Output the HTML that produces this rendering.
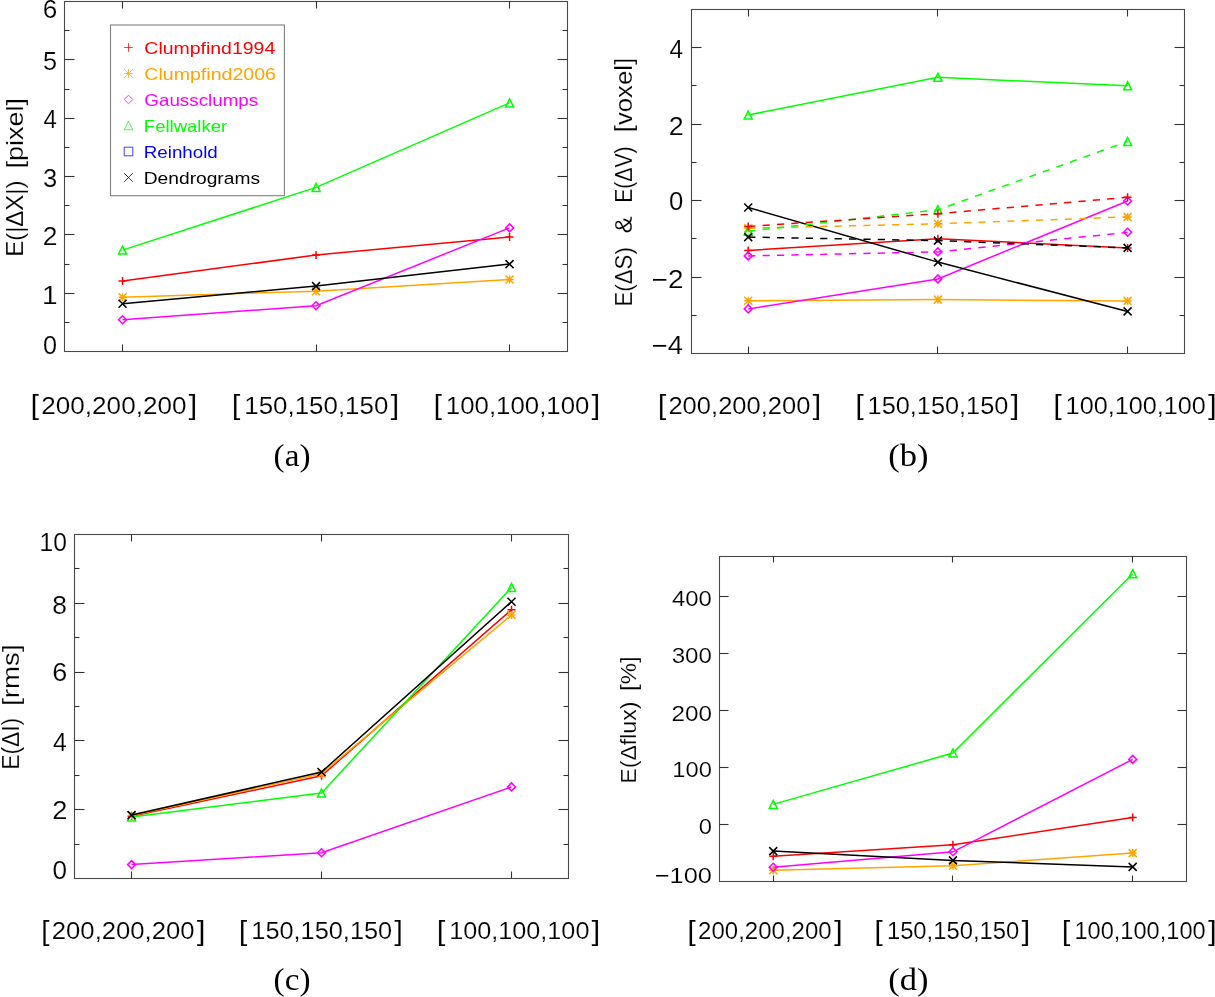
<!DOCTYPE html>
<html><head><meta charset="utf-8"><style>
html,body{margin:0;padding:0;background:#fff;width:1215px;height:997px;overflow:hidden}
svg{display:block;will-change:transform}
</style></head><body>
<svg width="1215" height="997" viewBox="0 0 1215 997">
<rect width="1215" height="997" fill="#fff"/>
<rect x="64.50" y="1.50" width="503.00" height="350.00" fill="none" stroke="#484848" stroke-width="1.1"/>
<line x1="122.50" y1="1.50" x2="122.50" y2="8.50" stroke="#333333" stroke-width="1.1"/>
<line x1="122.50" y1="351.50" x2="122.50" y2="344.50" stroke="#333333" stroke-width="1.1"/>
<line x1="316.50" y1="1.50" x2="316.50" y2="8.50" stroke="#333333" stroke-width="1.1"/>
<line x1="316.50" y1="351.50" x2="316.50" y2="344.50" stroke="#333333" stroke-width="1.1"/>
<line x1="509.50" y1="1.50" x2="509.50" y2="8.50" stroke="#333333" stroke-width="1.1"/>
<line x1="509.50" y1="351.50" x2="509.50" y2="344.50" stroke="#333333" stroke-width="1.1"/>
<line x1="64.50" y1="293.50" x2="74.50" y2="293.50" stroke="#333333" stroke-width="1.1"/>
<line x1="567.50" y1="293.50" x2="557.50" y2="293.50" stroke="#333333" stroke-width="1.1"/>
<line x1="64.50" y1="234.50" x2="74.50" y2="234.50" stroke="#333333" stroke-width="1.1"/>
<line x1="567.50" y1="234.50" x2="557.50" y2="234.50" stroke="#333333" stroke-width="1.1"/>
<line x1="64.50" y1="176.50" x2="74.50" y2="176.50" stroke="#333333" stroke-width="1.1"/>
<line x1="567.50" y1="176.50" x2="557.50" y2="176.50" stroke="#333333" stroke-width="1.1"/>
<line x1="64.50" y1="118.50" x2="74.50" y2="118.50" stroke="#333333" stroke-width="1.1"/>
<line x1="567.50" y1="118.50" x2="557.50" y2="118.50" stroke="#333333" stroke-width="1.1"/>
<line x1="64.50" y1="59.50" x2="74.50" y2="59.50" stroke="#333333" stroke-width="1.1"/>
<line x1="567.50" y1="59.50" x2="557.50" y2="59.50" stroke="#333333" stroke-width="1.1"/>
<line x1="64.50" y1="322.50" x2="69.50" y2="322.50" stroke="#333333" stroke-width="1.1"/>
<line x1="567.50" y1="322.50" x2="562.50" y2="322.50" stroke="#333333" stroke-width="1.1"/>
<line x1="64.50" y1="264.50" x2="69.50" y2="264.50" stroke="#333333" stroke-width="1.1"/>
<line x1="567.50" y1="264.50" x2="562.50" y2="264.50" stroke="#333333" stroke-width="1.1"/>
<line x1="64.50" y1="205.50" x2="69.50" y2="205.50" stroke="#333333" stroke-width="1.1"/>
<line x1="567.50" y1="205.50" x2="562.50" y2="205.50" stroke="#333333" stroke-width="1.1"/>
<line x1="64.50" y1="147.50" x2="69.50" y2="147.50" stroke="#333333" stroke-width="1.1"/>
<line x1="567.50" y1="147.50" x2="562.50" y2="147.50" stroke="#333333" stroke-width="1.1"/>
<line x1="64.50" y1="89.50" x2="69.50" y2="89.50" stroke="#333333" stroke-width="1.1"/>
<line x1="567.50" y1="89.50" x2="562.50" y2="89.50" stroke="#333333" stroke-width="1.1"/>
<line x1="64.50" y1="30.50" x2="69.50" y2="30.50" stroke="#333333" stroke-width="1.1"/>
<line x1="567.50" y1="30.50" x2="562.50" y2="30.50" stroke="#333333" stroke-width="1.1"/>
<text transform="translate(42.99 353.65) scale(1.0105 1)" font-size="25.00" font-family="Liberation Sans" fill="#000" stroke="#fff" stroke-width="0.15" style="white-space:pre">0</text>
<text transform="translate(41.91 303.72) scale(1.1163 1)" font-size="25.00" font-family="Liberation Sans" fill="#000" stroke="#fff" stroke-width="0.15" style="white-space:pre">1</text>
<text transform="translate(42.68 245.38) scale(1.0549 1)" font-size="25.00" font-family="Liberation Sans" fill="#000" stroke="#fff" stroke-width="0.15" style="white-space:pre">2</text>
<text transform="translate(42.98 187.05) scale(1.0213 1)" font-size="25.00" font-family="Liberation Sans" fill="#000" stroke="#fff" stroke-width="0.15" style="white-space:pre">3</text>
<text transform="translate(43.40 128.00) scale(0.9600 1)" font-size="25.00" font-family="Liberation Sans" fill="#000" stroke="#fff" stroke-width="0.15" style="white-space:pre">4</text>
<text transform="translate(42.99 69.50) scale(1.0105 1)" font-size="25.00" font-family="Liberation Sans" fill="#000" stroke="#fff" stroke-width="0.15" style="white-space:pre">5</text>
<text transform="translate(42.70 18.15) scale(1.0435 1)" font-size="25.00" font-family="Liberation Sans" fill="#000" stroke="#fff" stroke-width="0.15" style="white-space:pre">6</text>
<text transform="translate(22.60 256.82) rotate(-90) scale(1.0148 1)" font-size="23.62" font-family="Liberation Sans" fill="#000" stroke="#fff" stroke-width="0.15" style="white-space:pre">E(|ΔX|)</text>
<text transform="translate(22.60 168.49) rotate(-90) scale(1.1431 1)" font-size="23.62" font-family="Liberation Sans" fill="#000" stroke="#fff" stroke-width="0.15" style="white-space:pre">[pixel]</text>
<rect x="110.5" y="25" width="173.90" height="170.70" fill="#fff" stroke="#808080" stroke-width="1.1"/>
<text transform="translate(144.33 53.80) scale(1.1957 1)" font-size="16.29" font-family="Liberation Sans" fill="#ff0000" style="white-space:pre">Clumpfind1994</text>
<path d="M124.20 47.50H132.80M128.50 43.20V51.80" fill="none" stroke="#ff0000" stroke-width="0.75" stroke-linejoin="miter"/>
<text transform="translate(144.32 79.80) scale(1.2012 1)" font-size="16.29" font-family="Liberation Sans" fill="#ffa500" style="white-space:pre">Clumpfind2006</text>
<path d="M124.20 73.50H132.80M128.50 69.20V77.80M124.20 69.20L132.80 77.80M132.80 69.20L124.20 77.80" fill="none" stroke="#ffa500" stroke-width="0.75" stroke-linejoin="miter"/>
<text transform="translate(144.36 105.80) scale(1.1540 1)" font-size="16.29" font-family="Liberation Sans" fill="#ff00ff" style="white-space:pre">Gaussclumps</text>
<path d="M128.50 95.20L132.80 99.50L128.50 103.80L124.20 99.50Z" fill="none" stroke="#ff00ff" stroke-width="0.75" stroke-linejoin="miter"/>
<text transform="translate(143.82 131.80) scale(1.1389 1)" font-size="16.29" font-family="Liberation Sans" fill="#00ff00" style="white-space:pre">Fellwalker</text>
<path d="M128.50 121.20L132.80 129.80L124.20 129.80Z" fill="none" stroke="#00ff00" stroke-width="0.75" stroke-linejoin="miter"/>
<text transform="translate(143.80 157.80) scale(1.1505 1)" font-size="16.29" font-family="Liberation Sans" fill="#0000ff" style="white-space:pre">Reinhold</text>
<path d="M124.20 147.20H132.80V155.80H124.20Z" fill="none" stroke="#0000ff" stroke-width="0.75" stroke-linejoin="miter"/>
<text transform="translate(143.76 183.80) scale(1.1785 1)" font-size="16.29" font-family="Liberation Sans" fill="#000000" style="white-space:pre">Dendrograms</text>
<path d="M124.20 173.20L132.80 181.80M132.80 173.20L124.20 181.80" fill="none" stroke="#000000" stroke-width="0.75" stroke-linejoin="miter"/>
<polyline points="122.55,280.90 316.05,255.10 509.55,237.10" fill="none" stroke="#ff0000" stroke-width="1.5"/>
<path d="M118.55 280.90H126.55M122.55 276.90V284.90" fill="none" stroke="#ff0000" stroke-width="1.5" stroke-linejoin="miter"/>
<path d="M312.05 255.10H320.05M316.05 251.10V259.10" fill="none" stroke="#ff0000" stroke-width="1.5" stroke-linejoin="miter"/>
<path d="M505.55 237.10H513.55M509.55 233.10V241.10" fill="none" stroke="#ff0000" stroke-width="1.5" stroke-linejoin="miter"/>
<polyline points="122.55,297.20 316.05,291.20 509.55,279.50" fill="none" stroke="#ffa500" stroke-width="1.5"/>
<path d="M118.55 297.20H126.55M122.55 293.20V301.20M118.55 293.20L126.55 301.20M126.55 293.20L118.55 301.20" fill="none" stroke="#ffa500" stroke-width="1.5" stroke-linejoin="miter"/>
<path d="M312.05 291.20H320.05M316.05 287.20V295.20M312.05 287.20L320.05 295.20M320.05 287.20L312.05 295.20" fill="none" stroke="#ffa500" stroke-width="1.5" stroke-linejoin="miter"/>
<path d="M505.55 279.50H513.55M509.55 275.50V283.50M505.55 275.50L513.55 283.50M513.55 275.50L505.55 283.50" fill="none" stroke="#ffa500" stroke-width="1.5" stroke-linejoin="miter"/>
<polyline points="122.55,319.80 316.05,305.70 509.55,227.90" fill="none" stroke="#ff00ff" stroke-width="1.5"/>
<path d="M122.55 315.80L126.55 319.80L122.55 323.80L118.55 319.80Z" fill="none" stroke="#ff00ff" stroke-width="1.5" stroke-linejoin="miter"/>
<path d="M316.05 301.70L320.05 305.70L316.05 309.70L312.05 305.70Z" fill="none" stroke="#ff00ff" stroke-width="1.5" stroke-linejoin="miter"/>
<path d="M509.55 223.90L513.55 227.90L509.55 231.90L505.55 227.90Z" fill="none" stroke="#ff00ff" stroke-width="1.5" stroke-linejoin="miter"/>
<polyline points="122.55,250.10 316.05,187.40 509.55,102.90" fill="none" stroke="#00ff00" stroke-width="1.5"/>
<path d="M122.55 246.10L126.55 254.10L118.55 254.10Z" fill="none" stroke="#00ff00" stroke-width="1.5" stroke-linejoin="miter"/>
<path d="M316.05 183.40L320.05 191.40L312.05 191.40Z" fill="none" stroke="#00ff00" stroke-width="1.5" stroke-linejoin="miter"/>
<path d="M509.55 98.90L513.55 106.90L505.55 106.90Z" fill="none" stroke="#00ff00" stroke-width="1.5" stroke-linejoin="miter"/>
<polyline points="122.55,303.80 316.05,286.10 509.55,264.10" fill="none" stroke="#000000" stroke-width="1.5"/>
<path d="M118.55 299.80L126.55 307.80M126.55 299.80L118.55 307.80" fill="none" stroke="#000000" stroke-width="1.5" stroke-linejoin="miter"/>
<path d="M312.05 282.10L320.05 290.10M320.05 282.10L312.05 290.10" fill="none" stroke="#000000" stroke-width="1.5" stroke-linejoin="miter"/>
<path d="M505.55 260.10L513.55 268.10M513.55 260.10L505.55 268.10" fill="none" stroke="#000000" stroke-width="1.5" stroke-linejoin="miter"/>
<text transform="translate(30.53 413.87) scale(1.3313 1.1712)" font-size="23.29" font-family="Liberation Sans" fill="#000" stroke="#fff" stroke-width="0.15" style="white-space:pre">[</text>
<text transform="translate(41.29 413.60) scale(1.1211 1.0000)" font-size="23.29" font-family="Liberation Sans" fill="#000" stroke="#fff" stroke-width="0.15" style="white-space:pre">200,200,200</text>
<text transform="translate(188.58 413.87) scale(1.3654 1.1712)" font-size="23.29" font-family="Liberation Sans" fill="#000" stroke="#fff" stroke-width="0.15" style="white-space:pre">]</text>
<text transform="translate(231.83 413.87) scale(1.3313 1.1712)" font-size="23.29" font-family="Liberation Sans" fill="#000" stroke="#fff" stroke-width="0.15" style="white-space:pre">[</text>
<text transform="translate(244.26 413.60) scale(1.1129 1.0000)" font-size="23.29" font-family="Liberation Sans" fill="#000" stroke="#fff" stroke-width="0.15" style="white-space:pre">150,150,150</text>
<text transform="translate(390.48 413.87) scale(1.3654 1.1712)" font-size="23.29" font-family="Liberation Sans" fill="#000" stroke="#fff" stroke-width="0.15" style="white-space:pre">]</text>
<text transform="translate(433.43 413.87) scale(1.3313 1.1712)" font-size="23.29" font-family="Liberation Sans" fill="#000" stroke="#fff" stroke-width="0.15" style="white-space:pre">[</text>
<text transform="translate(445.86 413.60) scale(1.1089 1.0000)" font-size="23.29" font-family="Liberation Sans" fill="#000" stroke="#fff" stroke-width="0.15" style="white-space:pre">100,100,100</text>
<text transform="translate(591.58 413.87) scale(1.3654 1.1712)" font-size="23.29" font-family="Liberation Sans" fill="#000" stroke="#fff" stroke-width="0.15" style="white-space:pre">]</text>
<text transform="translate(273.60 466.00) scale(1.0290 1)" font-size="32.30" font-family="Liberation Serif" fill="#000" style="white-space:pre">(a)</text>
<rect x="691.50" y="9.50" width="493.00" height="344.00" fill="none" stroke="#484848" stroke-width="1.1"/>
<line x1="748.50" y1="9.50" x2="748.50" y2="16.50" stroke="#333333" stroke-width="1.1"/>
<line x1="748.50" y1="353.50" x2="748.50" y2="346.50" stroke="#333333" stroke-width="1.1"/>
<line x1="937.50" y1="9.50" x2="937.50" y2="16.50" stroke="#333333" stroke-width="1.1"/>
<line x1="937.50" y1="353.50" x2="937.50" y2="346.50" stroke="#333333" stroke-width="1.1"/>
<line x1="1127.50" y1="9.50" x2="1127.50" y2="16.50" stroke="#333333" stroke-width="1.1"/>
<line x1="1127.50" y1="353.50" x2="1127.50" y2="346.50" stroke="#333333" stroke-width="1.1"/>
<line x1="691.50" y1="277.50" x2="701.50" y2="277.50" stroke="#333333" stroke-width="1.1"/>
<line x1="1184.50" y1="277.50" x2="1174.50" y2="277.50" stroke="#333333" stroke-width="1.1"/>
<line x1="691.50" y1="200.50" x2="701.50" y2="200.50" stroke="#333333" stroke-width="1.1"/>
<line x1="1184.50" y1="200.50" x2="1174.50" y2="200.50" stroke="#333333" stroke-width="1.1"/>
<line x1="691.50" y1="124.50" x2="701.50" y2="124.50" stroke="#333333" stroke-width="1.1"/>
<line x1="1184.50" y1="124.50" x2="1174.50" y2="124.50" stroke="#333333" stroke-width="1.1"/>
<line x1="691.50" y1="47.50" x2="701.50" y2="47.50" stroke="#333333" stroke-width="1.1"/>
<line x1="1184.50" y1="47.50" x2="1174.50" y2="47.50" stroke="#333333" stroke-width="1.1"/>
<line x1="691.50" y1="315.50" x2="696.50" y2="315.50" stroke="#333333" stroke-width="1.1"/>
<line x1="1184.50" y1="315.50" x2="1179.50" y2="315.50" stroke="#333333" stroke-width="1.1"/>
<line x1="691.50" y1="238.50" x2="696.50" y2="238.50" stroke="#333333" stroke-width="1.1"/>
<line x1="1184.50" y1="238.50" x2="1179.50" y2="238.50" stroke="#333333" stroke-width="1.1"/>
<line x1="691.50" y1="162.50" x2="696.50" y2="162.50" stroke="#333333" stroke-width="1.1"/>
<line x1="1184.50" y1="162.50" x2="1179.50" y2="162.50" stroke="#333333" stroke-width="1.1"/>
<line x1="691.50" y1="85.50" x2="696.50" y2="85.50" stroke="#333333" stroke-width="1.1"/>
<line x1="1184.50" y1="85.50" x2="1179.50" y2="85.50" stroke="#333333" stroke-width="1.1"/>
<text transform="translate(651.73 354.10) scale(1.0981 1)" font-size="25.00" font-family="Liberation Sans" fill="#000" stroke="#fff" stroke-width="0.15" style="white-space:pre">−4</text>
<text transform="translate(651.81 287.55) scale(1.1154 1)" font-size="25.00" font-family="Liberation Sans" fill="#000" stroke="#fff" stroke-width="0.15" style="white-space:pre">−2</text>
<text transform="translate(668.97 210.05) scale(1.0274 1)" font-size="25.00" font-family="Liberation Sans" fill="#000" stroke="#fff" stroke-width="0.15" style="white-space:pre">0</text>
<text transform="translate(668.66 134.95) scale(1.0725 1)" font-size="25.00" font-family="Liberation Sans" fill="#000" stroke="#fff" stroke-width="0.15" style="white-space:pre">2</text>
<text transform="translate(669.39 57.75) scale(0.9760 1)" font-size="25.00" font-family="Liberation Sans" fill="#000" stroke="#fff" stroke-width="0.15" style="white-space:pre">4</text>
<text transform="translate(631.80 306.48) rotate(-90) scale(0.9308 1)" font-size="23.91" font-family="Liberation Sans" fill="#000" stroke="#fff" stroke-width="0.15" style="white-space:pre">E(ΔS)</text>
<text transform="translate(631.80 233.60) rotate(-90) scale(1.0744 1)" font-size="23.91" font-family="Liberation Sans" fill="#000" stroke="#fff" stroke-width="0.15" style="white-space:pre">&amp;</text>
<text transform="translate(631.80 202.79) rotate(-90) scale(0.8844 1)" font-size="23.91" font-family="Liberation Sans" fill="#000" stroke="#fff" stroke-width="0.15" style="white-space:pre">E(ΔV)</text>
<text transform="translate(631.80 132.20) rotate(-90) scale(1.0766 1)" font-size="23.91" font-family="Liberation Sans" fill="#000" stroke="#fff" stroke-width="0.15" style="white-space:pre">[voxel]</text>
<polyline points="748.21,250.40 937.90,238.70 1127.59,247.90" fill="none" stroke="#ff0000" stroke-width="1.5"/>
<path d="M744.21 250.40H752.21M748.21 246.40V254.40" fill="none" stroke="#ff0000" stroke-width="1.5" stroke-linejoin="miter"/>
<path d="M933.90 238.70H941.90M937.90 234.70V242.70" fill="none" stroke="#ff0000" stroke-width="1.5" stroke-linejoin="miter"/>
<path d="M1123.59 247.90H1131.59M1127.59 243.90V251.90" fill="none" stroke="#ff0000" stroke-width="1.5" stroke-linejoin="miter"/>
<polyline points="748.21,300.80 937.90,299.60 1127.59,300.90" fill="none" stroke="#ffa500" stroke-width="1.5"/>
<path d="M744.21 300.80H752.21M748.21 296.80V304.80M744.21 296.80L752.21 304.80M752.21 296.80L744.21 304.80" fill="none" stroke="#ffa500" stroke-width="1.5" stroke-linejoin="miter"/>
<path d="M933.90 299.60H941.90M937.90 295.60V303.60M933.90 295.60L941.90 303.60M941.90 295.60L933.90 303.60" fill="none" stroke="#ffa500" stroke-width="1.5" stroke-linejoin="miter"/>
<path d="M1123.59 300.90H1131.59M1127.59 296.90V304.90M1123.59 296.90L1131.59 304.90M1131.59 296.90L1123.59 304.90" fill="none" stroke="#ffa500" stroke-width="1.5" stroke-linejoin="miter"/>
<polyline points="748.21,308.90 937.90,278.90 1127.59,201.00" fill="none" stroke="#ff00ff" stroke-width="1.5"/>
<path d="M748.21 304.90L752.21 308.90L748.21 312.90L744.21 308.90Z" fill="none" stroke="#ff00ff" stroke-width="1.5" stroke-linejoin="miter"/>
<path d="M937.90 274.90L941.90 278.90L937.90 282.90L933.90 278.90Z" fill="none" stroke="#ff00ff" stroke-width="1.5" stroke-linejoin="miter"/>
<path d="M1127.59 197.00L1131.59 201.00L1127.59 205.00L1123.59 201.00Z" fill="none" stroke="#ff00ff" stroke-width="1.5" stroke-linejoin="miter"/>
<polyline points="748.21,115.00 937.90,77.30 1127.59,85.80" fill="none" stroke="#00ff00" stroke-width="1.5"/>
<path d="M748.21 111.00L752.21 119.00L744.21 119.00Z" fill="none" stroke="#00ff00" stroke-width="1.5" stroke-linejoin="miter"/>
<path d="M937.90 73.30L941.90 81.30L933.90 81.30Z" fill="none" stroke="#00ff00" stroke-width="1.5" stroke-linejoin="miter"/>
<path d="M1127.59 81.80L1131.59 89.80L1123.59 89.80Z" fill="none" stroke="#00ff00" stroke-width="1.5" stroke-linejoin="miter"/>
<polyline points="748.21,207.50 937.90,262.10 1127.59,311.40" fill="none" stroke="#000000" stroke-width="1.5"/>
<path d="M744.21 203.50L752.21 211.50M752.21 203.50L744.21 211.50" fill="none" stroke="#000000" stroke-width="1.5" stroke-linejoin="miter"/>
<path d="M933.90 258.10L941.90 266.10M941.90 258.10L933.90 266.10" fill="none" stroke="#000000" stroke-width="1.5" stroke-linejoin="miter"/>
<path d="M1123.59 307.40L1131.59 315.40M1131.59 307.40L1123.59 315.40" fill="none" stroke="#000000" stroke-width="1.5" stroke-linejoin="miter"/>
<polyline points="748.21,228.20 937.90,223.80 1127.59,216.90" fill="none" stroke="#ffa500" stroke-width="1.5" stroke-dasharray="7.2 7.2"/>
<path d="M744.21 228.20H752.21M748.21 224.20V232.20M744.21 224.20L752.21 232.20M752.21 224.20L744.21 232.20" fill="none" stroke="#ffa500" stroke-width="1.5" stroke-linejoin="miter"/>
<path d="M933.90 223.80H941.90M937.90 219.80V227.80M933.90 219.80L941.90 227.80M941.90 219.80L933.90 227.80" fill="none" stroke="#ffa500" stroke-width="1.5" stroke-linejoin="miter"/>
<path d="M1123.59 216.90H1131.59M1127.59 212.90V220.90M1123.59 212.90L1131.59 220.90M1131.59 212.90L1123.59 220.90" fill="none" stroke="#ffa500" stroke-width="1.5" stroke-linejoin="miter"/>
<polyline points="748.21,255.90 937.90,251.90 1127.59,232.30" fill="none" stroke="#ff00ff" stroke-width="1.5" stroke-dasharray="7.2 7.2"/>
<path d="M748.21 251.90L752.21 255.90L748.21 259.90L744.21 255.90Z" fill="none" stroke="#ff00ff" stroke-width="1.5" stroke-linejoin="miter"/>
<path d="M937.90 247.90L941.90 251.90L937.90 255.90L933.90 251.90Z" fill="none" stroke="#ff00ff" stroke-width="1.5" stroke-linejoin="miter"/>
<path d="M1127.59 228.30L1131.59 232.30L1127.59 236.30L1123.59 232.30Z" fill="none" stroke="#ff00ff" stroke-width="1.5" stroke-linejoin="miter"/>
<polyline points="748.21,231.20 937.90,209.80 1127.59,141.50" fill="none" stroke="#00ff00" stroke-width="1.5" stroke-dasharray="7.2 7.2"/>
<path d="M748.21 227.20L752.21 235.20L744.21 235.20Z" fill="none" stroke="#00ff00" stroke-width="1.5" stroke-linejoin="miter"/>
<path d="M937.90 205.80L941.90 213.80L933.90 213.80Z" fill="none" stroke="#00ff00" stroke-width="1.5" stroke-linejoin="miter"/>
<path d="M1127.59 137.50L1131.59 145.50L1123.59 145.50Z" fill="none" stroke="#00ff00" stroke-width="1.5" stroke-linejoin="miter"/>
<polyline points="748.21,226.40 937.90,213.70 1127.59,197.30" fill="none" stroke="#ff0000" stroke-width="1.5" stroke-dasharray="7.2 7.2"/>
<path d="M744.21 226.40H752.21M748.21 222.40V230.40" fill="none" stroke="#ff0000" stroke-width="1.5" stroke-linejoin="miter"/>
<path d="M933.90 213.70H941.90M937.90 209.70V217.70" fill="none" stroke="#ff0000" stroke-width="1.5" stroke-linejoin="miter"/>
<path d="M1123.59 197.30H1131.59M1127.59 193.30V201.30" fill="none" stroke="#ff0000" stroke-width="1.5" stroke-linejoin="miter"/>
<polyline points="748.21,237.10 937.90,240.60 1127.59,247.90" fill="none" stroke="#000000" stroke-width="1.5" stroke-dasharray="7.2 7.2"/>
<path d="M744.21 233.10L752.21 241.10M752.21 233.10L744.21 241.10" fill="none" stroke="#000000" stroke-width="1.5" stroke-linejoin="miter"/>
<path d="M933.90 236.60L941.90 244.60M941.90 236.60L933.90 244.60" fill="none" stroke="#000000" stroke-width="1.5" stroke-linejoin="miter"/>
<path d="M1123.59 243.90L1131.59 251.90M1131.59 243.90L1123.59 251.90" fill="none" stroke="#000000" stroke-width="1.5" stroke-linejoin="miter"/>
<text transform="translate(657.63 413.87) scale(1.3313 1.1712)" font-size="23.29" font-family="Liberation Sans" fill="#000" stroke="#fff" stroke-width="0.15" style="white-space:pre">[</text>
<text transform="translate(668.42 413.60) scale(1.0968 1.0000)" font-size="23.29" font-family="Liberation Sans" fill="#000" stroke="#fff" stroke-width="0.15" style="white-space:pre">200,200,200</text>
<text transform="translate(812.58 413.87) scale(1.3654 1.1712)" font-size="23.29" font-family="Liberation Sans" fill="#000" stroke="#fff" stroke-width="0.15" style="white-space:pre">]</text>
<text transform="translate(855.13 413.87) scale(1.3313 1.1712)" font-size="23.29" font-family="Liberation Sans" fill="#000" stroke="#fff" stroke-width="0.15" style="white-space:pre">[</text>
<text transform="translate(867.60 413.60) scale(1.0868 1.0000)" font-size="23.29" font-family="Liberation Sans" fill="#000" stroke="#fff" stroke-width="0.15" style="white-space:pre">150,150,150</text>
<text transform="translate(1010.48 413.87) scale(1.3654 1.1712)" font-size="23.29" font-family="Liberation Sans" fill="#000" stroke="#fff" stroke-width="0.15" style="white-space:pre">]</text>
<text transform="translate(1053.13 413.87) scale(1.3313 1.1712)" font-size="23.29" font-family="Liberation Sans" fill="#000" stroke="#fff" stroke-width="0.15" style="white-space:pre">[</text>
<text transform="translate(1065.61 413.60) scale(1.0829 1.0000)" font-size="23.29" font-family="Liberation Sans" fill="#000" stroke="#fff" stroke-width="0.15" style="white-space:pre">100,100,100</text>
<text transform="translate(1207.98 413.87) scale(1.3654 1.1712)" font-size="23.29" font-family="Liberation Sans" fill="#000" stroke="#fff" stroke-width="0.15" style="white-space:pre">]</text>
<text transform="translate(888.35 466.00) scale(1.0685 1)" font-size="32.30" font-family="Liberation Serif" fill="#000" style="white-space:pre">(b)</text>
<rect x="74.50" y="534.50" width="494.00" height="344.00" fill="none" stroke="#484848" stroke-width="1.1"/>
<line x1="131.50" y1="534.50" x2="131.50" y2="541.50" stroke="#333333" stroke-width="1.1"/>
<line x1="131.50" y1="878.50" x2="131.50" y2="871.50" stroke="#333333" stroke-width="1.1"/>
<line x1="321.50" y1="534.50" x2="321.50" y2="541.50" stroke="#333333" stroke-width="1.1"/>
<line x1="321.50" y1="878.50" x2="321.50" y2="871.50" stroke="#333333" stroke-width="1.1"/>
<line x1="511.50" y1="534.50" x2="511.50" y2="541.50" stroke="#333333" stroke-width="1.1"/>
<line x1="511.50" y1="878.50" x2="511.50" y2="871.50" stroke="#333333" stroke-width="1.1"/>
<line x1="74.50" y1="809.50" x2="84.50" y2="809.50" stroke="#333333" stroke-width="1.1"/>
<line x1="568.50" y1="809.50" x2="558.50" y2="809.50" stroke="#333333" stroke-width="1.1"/>
<line x1="74.50" y1="740.50" x2="84.50" y2="740.50" stroke="#333333" stroke-width="1.1"/>
<line x1="568.50" y1="740.50" x2="558.50" y2="740.50" stroke="#333333" stroke-width="1.1"/>
<line x1="74.50" y1="672.50" x2="84.50" y2="672.50" stroke="#333333" stroke-width="1.1"/>
<line x1="568.50" y1="672.50" x2="558.50" y2="672.50" stroke="#333333" stroke-width="1.1"/>
<line x1="74.50" y1="603.50" x2="84.50" y2="603.50" stroke="#333333" stroke-width="1.1"/>
<line x1="568.50" y1="603.50" x2="558.50" y2="603.50" stroke="#333333" stroke-width="1.1"/>
<line x1="74.50" y1="844.50" x2="79.50" y2="844.50" stroke="#333333" stroke-width="1.1"/>
<line x1="568.50" y1="844.50" x2="563.50" y2="844.50" stroke="#333333" stroke-width="1.1"/>
<line x1="74.50" y1="775.50" x2="79.50" y2="775.50" stroke="#333333" stroke-width="1.1"/>
<line x1="568.50" y1="775.50" x2="563.50" y2="775.50" stroke="#333333" stroke-width="1.1"/>
<line x1="74.50" y1="706.50" x2="79.50" y2="706.50" stroke="#333333" stroke-width="1.1"/>
<line x1="568.50" y1="706.50" x2="563.50" y2="706.50" stroke="#333333" stroke-width="1.1"/>
<line x1="74.50" y1="637.50" x2="79.50" y2="637.50" stroke="#333333" stroke-width="1.1"/>
<line x1="568.50" y1="637.50" x2="563.50" y2="637.50" stroke="#333333" stroke-width="1.1"/>
<line x1="74.50" y1="568.50" x2="79.50" y2="568.50" stroke="#333333" stroke-width="1.1"/>
<line x1="568.50" y1="568.50" x2="563.50" y2="568.50" stroke="#333333" stroke-width="1.1"/>
<text transform="translate(52.46 878.75) scale(1.0442 1)" font-size="25.00" font-family="Liberation Sans" fill="#000" stroke="#fff" stroke-width="0.15" style="white-space:pre">0</text>
<text transform="translate(52.14 819.35) scale(1.0901 1)" font-size="25.00" font-family="Liberation Sans" fill="#000" stroke="#fff" stroke-width="0.15" style="white-space:pre">2</text>
<text transform="translate(52.88 751.35) scale(0.9920 1)" font-size="25.00" font-family="Liberation Sans" fill="#000" stroke="#fff" stroke-width="0.15" style="white-space:pre">4</text>
<text transform="translate(52.15 681.35) scale(1.0783 1)" font-size="25.00" font-family="Liberation Sans" fill="#000" stroke="#fff" stroke-width="0.15" style="white-space:pre">6</text>
<text transform="translate(52.31 613.55) scale(1.0553 1)" font-size="25.00" font-family="Liberation Sans" fill="#000" stroke="#fff" stroke-width="0.15" style="white-space:pre">8</text>
<text transform="translate(39.45 551.05) scale(0.9840 1)" font-size="25.00" font-family="Liberation Sans" fill="#000" stroke="#fff" stroke-width="0.15" style="white-space:pre">10</text>
<text transform="translate(19.30 769.82) rotate(-90) scale(0.9776 1)" font-size="23.33" font-family="Liberation Sans" fill="#000" stroke="#fff" stroke-width="0.15" style="white-space:pre">E(ΔI)</text>
<text transform="translate(19.30 705.84) rotate(-90) scale(1.1868 1)" font-size="23.33" font-family="Liberation Sans" fill="#000" stroke="#fff" stroke-width="0.15" style="white-space:pre">[rms]</text>
<polyline points="131.59,816.20 321.55,775.80 511.51,609.80" fill="none" stroke="#ff0000" stroke-width="1.5"/>
<path d="M127.59 816.20H135.59M131.59 812.20V820.20" fill="none" stroke="#ff0000" stroke-width="1.5" stroke-linejoin="miter"/>
<path d="M317.55 775.80H325.55M321.55 771.80V779.80" fill="none" stroke="#ff0000" stroke-width="1.5" stroke-linejoin="miter"/>
<path d="M507.51 609.80H515.51M511.51 605.80V613.80" fill="none" stroke="#ff0000" stroke-width="1.5" stroke-linejoin="miter"/>
<polyline points="131.59,815.50 321.55,773.70 511.51,615.00" fill="none" stroke="#ffa500" stroke-width="1.5"/>
<path d="M127.59 815.50H135.59M131.59 811.50V819.50M127.59 811.50L135.59 819.50M135.59 811.50L127.59 819.50" fill="none" stroke="#ffa500" stroke-width="1.5" stroke-linejoin="miter"/>
<path d="M317.55 773.70H325.55M321.55 769.70V777.70M317.55 769.70L325.55 777.70M325.55 769.70L317.55 777.70" fill="none" stroke="#ffa500" stroke-width="1.5" stroke-linejoin="miter"/>
<path d="M507.51 615.00H515.51M511.51 611.00V619.00M507.51 611.00L515.51 619.00M515.51 611.00L507.51 619.00" fill="none" stroke="#ffa500" stroke-width="1.5" stroke-linejoin="miter"/>
<polyline points="131.59,864.60 321.55,852.70 511.51,786.90" fill="none" stroke="#ff00ff" stroke-width="1.5"/>
<path d="M131.59 860.60L135.59 864.60L131.59 868.60L127.59 864.60Z" fill="none" stroke="#ff00ff" stroke-width="1.5" stroke-linejoin="miter"/>
<path d="M321.55 848.70L325.55 852.70L321.55 856.70L317.55 852.70Z" fill="none" stroke="#ff00ff" stroke-width="1.5" stroke-linejoin="miter"/>
<path d="M511.51 782.90L515.51 786.90L511.51 790.90L507.51 786.90Z" fill="none" stroke="#ff00ff" stroke-width="1.5" stroke-linejoin="miter"/>
<polyline points="131.59,816.90 321.55,793.00 511.51,587.40" fill="none" stroke="#00ff00" stroke-width="1.5"/>
<path d="M131.59 812.90L135.59 820.90L127.59 820.90Z" fill="none" stroke="#00ff00" stroke-width="1.5" stroke-linejoin="miter"/>
<path d="M321.55 789.00L325.55 797.00L317.55 797.00Z" fill="none" stroke="#00ff00" stroke-width="1.5" stroke-linejoin="miter"/>
<path d="M511.51 583.40L515.51 591.40L507.51 591.40Z" fill="none" stroke="#00ff00" stroke-width="1.5" stroke-linejoin="miter"/>
<polyline points="131.59,815.10 321.55,772.00 511.51,601.70" fill="none" stroke="#000000" stroke-width="1.5"/>
<path d="M127.59 811.10L135.59 819.10M135.59 811.10L127.59 819.10" fill="none" stroke="#000000" stroke-width="1.5" stroke-linejoin="miter"/>
<path d="M317.55 768.00L325.55 776.00M325.55 768.00L317.55 776.00" fill="none" stroke="#000000" stroke-width="1.5" stroke-linejoin="miter"/>
<path d="M507.51 597.70L515.51 605.70M515.51 597.70L507.51 605.70" fill="none" stroke="#000000" stroke-width="1.5" stroke-linejoin="miter"/>
<text transform="translate(41.03 939.67) scale(1.3313 1.1712)" font-size="23.29" font-family="Liberation Sans" fill="#000" stroke="#fff" stroke-width="0.15" style="white-space:pre">[</text>
<text transform="translate(51.82 939.40) scale(1.1023 1.0000)" font-size="23.29" font-family="Liberation Sans" fill="#000" stroke="#fff" stroke-width="0.15" style="white-space:pre">200,200,200</text>
<text transform="translate(196.68 939.67) scale(1.3654 1.1712)" font-size="23.29" font-family="Liberation Sans" fill="#000" stroke="#fff" stroke-width="0.15" style="white-space:pre">]</text>
<text transform="translate(238.83 939.67) scale(1.3313 1.1712)" font-size="23.29" font-family="Liberation Sans" fill="#000" stroke="#fff" stroke-width="0.15" style="white-space:pre">[</text>
<text transform="translate(251.30 939.40) scale(1.0876 1.0000)" font-size="23.29" font-family="Liberation Sans" fill="#000" stroke="#fff" stroke-width="0.15" style="white-space:pre">150,150,150</text>
<text transform="translate(394.28 939.67) scale(1.3654 1.1712)" font-size="23.29" font-family="Liberation Sans" fill="#000" stroke="#fff" stroke-width="0.15" style="white-space:pre">]</text>
<text transform="translate(436.73 939.67) scale(1.3313 1.1712)" font-size="23.29" font-family="Liberation Sans" fill="#000" stroke="#fff" stroke-width="0.15" style="white-space:pre">[</text>
<text transform="translate(449.21 939.40) scale(1.0829 1.0000)" font-size="23.29" font-family="Liberation Sans" fill="#000" stroke="#fff" stroke-width="0.15" style="white-space:pre">100,100,100</text>
<text transform="translate(591.58 939.67) scale(1.3654 1.1712)" font-size="23.29" font-family="Liberation Sans" fill="#000" stroke="#fff" stroke-width="0.15" style="white-space:pre">]</text>
<text transform="translate(273.60 989.70) scale(1.0290 1)" font-size="32.30" font-family="Liberation Serif" fill="#000" style="white-space:pre">(c)</text>
<rect x="719.50" y="556.50" width="467.00" height="325.00" fill="none" stroke="#484848" stroke-width="1.1"/>
<line x1="773.50" y1="556.50" x2="773.50" y2="562.50" stroke="#333333" stroke-width="1.1"/>
<line x1="773.50" y1="881.50" x2="773.50" y2="875.50" stroke="#333333" stroke-width="1.1"/>
<line x1="952.50" y1="556.50" x2="952.50" y2="562.50" stroke="#333333" stroke-width="1.1"/>
<line x1="952.50" y1="881.50" x2="952.50" y2="875.50" stroke="#333333" stroke-width="1.1"/>
<line x1="1132.50" y1="556.50" x2="1132.50" y2="562.50" stroke="#333333" stroke-width="1.1"/>
<line x1="1132.50" y1="881.50" x2="1132.50" y2="875.50" stroke="#333333" stroke-width="1.1"/>
<line x1="719.50" y1="824.50" x2="728.50" y2="824.50" stroke="#333333" stroke-width="1.1"/>
<line x1="1186.50" y1="824.50" x2="1177.50" y2="824.50" stroke="#333333" stroke-width="1.1"/>
<line x1="719.50" y1="767.50" x2="728.50" y2="767.50" stroke="#333333" stroke-width="1.1"/>
<line x1="1186.50" y1="767.50" x2="1177.50" y2="767.50" stroke="#333333" stroke-width="1.1"/>
<line x1="719.50" y1="710.50" x2="728.50" y2="710.50" stroke="#333333" stroke-width="1.1"/>
<line x1="1186.50" y1="710.50" x2="1177.50" y2="710.50" stroke="#333333" stroke-width="1.1"/>
<line x1="719.50" y1="653.50" x2="728.50" y2="653.50" stroke="#333333" stroke-width="1.1"/>
<line x1="1186.50" y1="653.50" x2="1177.50" y2="653.50" stroke="#333333" stroke-width="1.1"/>
<line x1="719.50" y1="596.50" x2="728.50" y2="596.50" stroke="#333333" stroke-width="1.1"/>
<line x1="1186.50" y1="596.50" x2="1177.50" y2="596.50" stroke="#333333" stroke-width="1.1"/>
<text transform="translate(654.73 882.55) scale(1.1399 1)" font-size="22.29" font-family="Liberation Sans" fill="#000" stroke="#fff" stroke-width="0.15" style="white-space:pre">−100</text>
<text transform="translate(698.75 834.30) scale(1.0675 1)" font-size="22.29" font-family="Liberation Sans" fill="#000" stroke="#fff" stroke-width="0.15" style="white-space:pre">0</text>
<text transform="translate(672.32 777.20) scale(1.0648 1)" font-size="22.29" font-family="Liberation Sans" fill="#000" stroke="#fff" stroke-width="0.15" style="white-space:pre">100</text>
<text transform="translate(671.38 720.50) scale(1.0906 1)" font-size="22.29" font-family="Liberation Sans" fill="#000" stroke="#fff" stroke-width="0.15" style="white-space:pre">200</text>
<text transform="translate(671.63 663.30) scale(1.0837 1)" font-size="22.29" font-family="Liberation Sans" fill="#000" stroke="#fff" stroke-width="0.15" style="white-space:pre">300</text>
<text transform="translate(672.00 606.30) scale(1.0736 1)" font-size="22.29" font-family="Liberation Sans" fill="#000" stroke="#fff" stroke-width="0.15" style="white-space:pre">400</text>
<text transform="translate(635.70 783.65) rotate(-90) scale(1.0406 1)" font-size="22.17" font-family="Liberation Sans" fill="#000" stroke="#fff" stroke-width="0.15" style="white-space:pre">E(Δflux)</text>
<text transform="translate(635.70 690.98) rotate(-90) scale(1.0817 1)" font-size="22.17" font-family="Liberation Sans" fill="#000" stroke="#fff" stroke-width="0.15" style="white-space:pre">[%]</text>
<polyline points="773.22,856.20 952.95,844.80 1132.68,817.60" fill="none" stroke="#ff0000" stroke-width="1.5"/>
<path d="M769.22 856.20H777.22M773.22 852.20V860.20" fill="none" stroke="#ff0000" stroke-width="1.5" stroke-linejoin="miter"/>
<path d="M948.95 844.80H956.95M952.95 840.80V848.80" fill="none" stroke="#ff0000" stroke-width="1.5" stroke-linejoin="miter"/>
<path d="M1128.68 817.60H1136.68M1132.68 813.60V821.60" fill="none" stroke="#ff0000" stroke-width="1.5" stroke-linejoin="miter"/>
<polyline points="773.22,870.20 952.95,865.70 1132.68,853.10" fill="none" stroke="#ffa500" stroke-width="1.5"/>
<path d="M769.22 870.20H777.22M773.22 866.20V874.20M769.22 866.20L777.22 874.20M777.22 866.20L769.22 874.20" fill="none" stroke="#ffa500" stroke-width="1.5" stroke-linejoin="miter"/>
<path d="M948.95 865.70H956.95M952.95 861.70V869.70M948.95 861.70L956.95 869.70M956.95 861.70L948.95 869.70" fill="none" stroke="#ffa500" stroke-width="1.5" stroke-linejoin="miter"/>
<path d="M1128.68 853.10H1136.68M1132.68 849.10V857.10M1128.68 849.10L1136.68 857.10M1136.68 849.10L1128.68 857.10" fill="none" stroke="#ffa500" stroke-width="1.5" stroke-linejoin="miter"/>
<polyline points="773.22,867.20 952.95,851.80 1132.68,759.40" fill="none" stroke="#ff00ff" stroke-width="1.5"/>
<path d="M773.22 863.20L777.22 867.20L773.22 871.20L769.22 867.20Z" fill="none" stroke="#ff00ff" stroke-width="1.5" stroke-linejoin="miter"/>
<path d="M952.95 847.80L956.95 851.80L952.95 855.80L948.95 851.80Z" fill="none" stroke="#ff00ff" stroke-width="1.5" stroke-linejoin="miter"/>
<path d="M1132.68 755.40L1136.68 759.40L1132.68 763.40L1128.68 759.40Z" fill="none" stroke="#ff00ff" stroke-width="1.5" stroke-linejoin="miter"/>
<polyline points="773.22,804.40 952.95,753.00 1132.68,573.70" fill="none" stroke="#00ff00" stroke-width="1.5"/>
<path d="M773.22 800.40L777.22 808.40L769.22 808.40Z" fill="none" stroke="#00ff00" stroke-width="1.5" stroke-linejoin="miter"/>
<path d="M952.95 749.00L956.95 757.00L948.95 757.00Z" fill="none" stroke="#00ff00" stroke-width="1.5" stroke-linejoin="miter"/>
<path d="M1132.68 569.70L1136.68 577.70L1128.68 577.70Z" fill="none" stroke="#00ff00" stroke-width="1.5" stroke-linejoin="miter"/>
<polyline points="773.22,851.10 952.95,860.40 1132.68,866.90" fill="none" stroke="#000000" stroke-width="1.5"/>
<path d="M769.22 847.10L777.22 855.10M777.22 847.10L769.22 855.10" fill="none" stroke="#000000" stroke-width="1.5" stroke-linejoin="miter"/>
<path d="M948.95 856.40L956.95 864.40M956.95 856.40L948.95 864.40" fill="none" stroke="#000000" stroke-width="1.5" stroke-linejoin="miter"/>
<path d="M1128.68 862.90L1136.68 870.90M1136.68 862.90L1128.68 870.90" fill="none" stroke="#000000" stroke-width="1.5" stroke-linejoin="miter"/>
<text transform="translate(687.23 939.67) scale(1.3313 1.1712)" font-size="23.29" font-family="Liberation Sans" fill="#000" stroke="#fff" stroke-width="0.15" style="white-space:pre">[</text>
<text transform="translate(698.10 939.40) scale(1.0316 1.0000)" font-size="23.29" font-family="Liberation Sans" fill="#000" stroke="#fff" stroke-width="0.15" style="white-space:pre">200,200,200</text>
<text transform="translate(833.88 939.67) scale(1.3654 1.1712)" font-size="23.29" font-family="Liberation Sans" fill="#000" stroke="#fff" stroke-width="0.15" style="white-space:pre">]</text>
<text transform="translate(874.33 939.67) scale(1.3313 1.1712)" font-size="23.29" font-family="Liberation Sans" fill="#000" stroke="#fff" stroke-width="0.15" style="white-space:pre">[</text>
<text transform="translate(886.92 939.40) scale(1.0214 1.0000)" font-size="23.29" font-family="Liberation Sans" fill="#000" stroke="#fff" stroke-width="0.15" style="white-space:pre">150,150,150</text>
<text transform="translate(1021.38 939.67) scale(1.3654 1.1712)" font-size="23.29" font-family="Liberation Sans" fill="#000" stroke="#fff" stroke-width="0.15" style="white-space:pre">]</text>
<text transform="translate(1061.83 939.67) scale(1.3313 1.1712)" font-size="23.29" font-family="Liberation Sans" fill="#000" stroke="#fff" stroke-width="0.15" style="white-space:pre">[</text>
<text transform="translate(1074.43 939.40) scale(1.0143 1.0000)" font-size="23.29" font-family="Liberation Sans" fill="#000" stroke="#fff" stroke-width="0.15" style="white-space:pre">100,100,100</text>
<text transform="translate(1207.98 939.67) scale(1.3654 1.1712)" font-size="23.29" font-family="Liberation Sans" fill="#000" stroke="#fff" stroke-width="0.15" style="white-space:pre">]</text>
<text transform="translate(888.35 989.70) scale(1.0685 1)" font-size="32.30" font-family="Liberation Serif" fill="#000" style="white-space:pre">(d)</text>
</svg></body></html>
